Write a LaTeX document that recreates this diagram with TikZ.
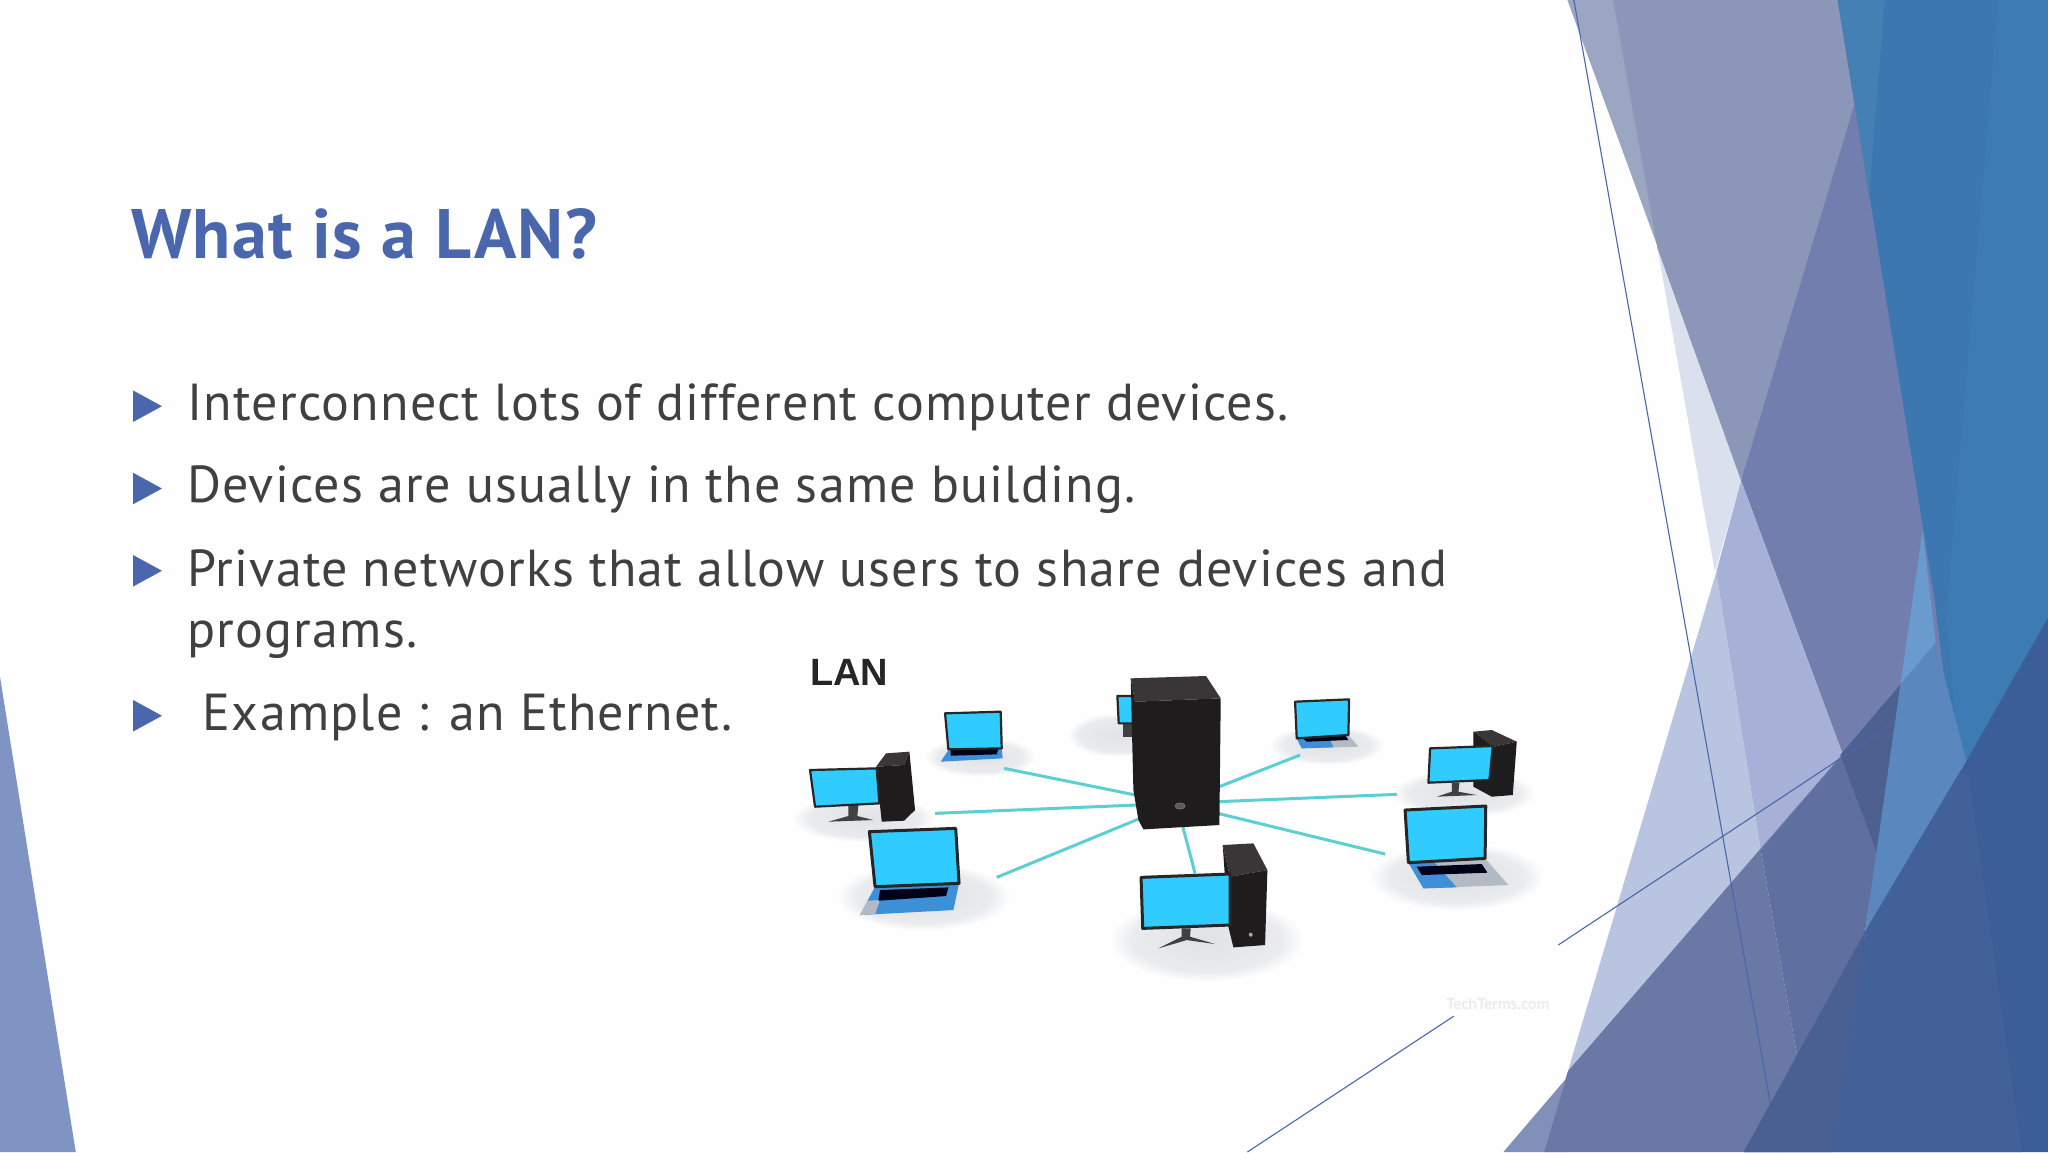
\documentclass[tikz,border=0pt]{standalone}
\usepackage{fontspec}
\setmainfont{PT Sans}
\newfontfamily\bodyfont[LetterSpace=2.4]{PT Sans}
\newfontfamily\titlefont[LetterSpace=2.2]{PT Sans}
\newfontfamily\lanfont{Liberation Sans}
\usetikzlibrary{shapes.geometric}

\definecolor{titleblue}{HTML}{4A66AC}
\definecolor{bodygray}{HTML}{404040}
\definecolor{linkcyan}{HTML}{5CCFD2}
\definecolor{screenblue}{HTML}{30CCFF}
\definecolor{towerblack}{HTML}{1F1C1D}
\definecolor{towertop}{HTML}{3A3638}
\definecolor{deckblue}{HTML}{3D8FD8}
\definecolor{deckgray}{HTML}{B4BAC4}
\definecolor{discgray}{HTML}{E0E2E5}
\definecolor{discedge}{HTML}{E9EBEE}

\pgfdeclareradialshading{discshade}{\pgfpoint{0bp}{0bp}}{
  color(0bp)=(discgray); color(19bp)=(discedge); color(25bp)=(white); color(50bp)=(white)}

\tikzset{
  bodytext/.style={anchor=base west,inner sep=0pt,text=bodygray,font=\bodyfont\fontsize{26}{30}\selectfont},
  bullet/.style={fill=titleblue},
  facet/.style={/utils/exec={\definecolor{facetcol}{HTML}{#1}},fill=facetcol,draw=none},
  thinline/.style={draw=titleblue,line width=0.55pt},
  disc/.style={ellipse,minimum width=#1,shading=discshade},
  lanlink/.style={draw=linkcyan,line width=1.5pt},
  bezel/.style={fill=screenblue,draw=black!85,line width=1.1pt,line join=round},
  towerfront/.style={fill=towerblack},
  toptower/.style={fill=towertop},
  keys/.style={fill=black!90!blue},
  stand/.style={fill=black!75}
}

\begin{document}
\begin{tikzpicture}[x=0.653061pt,y=-0.653061pt]
  \useasboundingbox (0,0) rectangle (1568,882);
  \fill[facet=FEFEFE] (0,0) rectangle (1568,882);

  % facets on the right
  \fill[facet=9BA7C2] (1200,0) -- (1420,0) -- (1501,579) -- (1437,648) -- cycle;
  \fill[facet=DAE0EE] (1269,190) -- (1333,368) -- (1313,438) -- cycle;
  \fill[facet=8C96B8] (1235,0) -- (1420,0) -- (1420,79) -- (1333,368) -- (1269,190) -- cycle;
  \fill[facet=727FAE] (1420,79) -- (1333,368) -- (1437,648) -- (1501,579) -- (1407,0) -- cycle;
  \fill[facet=B8C4E0] (1314,438) -- (1348,651) -- (1200,882) -- (1182,882) -- cycle;
  \fill[facet=A7B1D7] (1333,368) -- (1437,648) -- (1348,651) -- (1314,438) -- cycle;
  \fill[facet=8090B8] (1457,524) -- (1151,882) -- (1182,882) -- (1200.6,820) -- cycle;
  \fill[facet=6A78A5] (1457,524) -- (1200.6,820) -- (1182,882) -- (1389,882) -- (1348,651) -- cycle;
  \fill[facet=5F70A0] (1348,651) -- (1389,882) -- (1403,882) -- (1428,713) -- (1457,524) -- cycle;
  \fill[facet=4D6090] (1455,524) -- (1409,578) -- (1437,653) -- cycle;
  \draw[thinline] (1205,0) -- (1362,882);
  \fill[facet=3D77B1] (1407,0) -- (1568,0) -- (1568,620) -- (1501,620) -- (1481,458) -- cycle;
  \fill[facet=4480B4] (1407,0) -- (1443,0) -- (1431,150) -- (1420,79) -- cycle;
  \fill[facet=3D7BB4] (1530,0) -- (1568,0) -- (1568,473) -- (1501,590) -- (1490,473) -- cycle;
  \fill[facet=6A9BCF] (1472,406) -- (1482,492) -- (1455,524) -- cycle;
  \fill[facet=5A88BE] (1455,524) -- (1482,492) -- (1510,600) -- (1428,713) -- cycle;
  \fill[facet=3B5E98] (1568,473) -- (1335,882) -- (1568,882) -- cycle;
  \fill[facet=4A5F92] (1335,882) -- (1403,882) -- (1426,729) -- (1428,713) -- cycle;
  \fill[facet=436199] (1403,882) -- (1428,713) -- (1501,590) -- (1507,594) -- (1548,882) -- cycle;
  \draw[thinline] (1193,723.5) -- (1450,553.7);
  \draw[thinline] (1113,778) -- (955,882);

  % facet on the left
  \fill[facet=8094C4] (0,518) -- (58,882) -- (0,882) -- cycle;

  % slide text
  \node[anchor=base west,inner sep=0pt,text=titleblue,font=\titlefont\fontsize{35}{40}\selectfont\bfseries] (title) at (100,198) {What is a LAN?};
  \node[bodytext] (itemA) at (143,322) {Interconnect lots of different computer devices.};
  \node[bodytext] (itemB) at (143,385) {Devices are usually in the same building.};
  \node[bodytext] (itemC) at (143,449) {Private networks that allow users to share devices and};
  \node[bodytext] (itemD) at (143,496) {programs.};
  \node[bodytext] (itemE) at (155,559) {Example : an Ethernet.};
  \foreach \y in {311,374,437,548}
    \fill[bullet] (102,\y-12) -- (124,\y) -- (102,\y+12) -- cycle;

  \node[anchor=base west,inner sep=0pt,font=\lanfont\bfseries\fontsize{19}{20}\selectfont,text=black!85] (lanlabel) at (620,525) {LAN};
  \node[anchor=base west,inner sep=0pt,font=\fontsize{8}{9}\selectfont\bfseries,text=black!7] (mark) at (1107,773) {TechTerms.com};

  % network: left half
  \begin{scope}[shift={(597.2,490)},x=0.16668pt,y=-0.16668pt]
    \node[disc=72pt,minimum height=24pt] (discPcL) at (250,535) {};
    \node[disc=56pt,minimum height=20pt] (discLapA) at (600,350) {};
    \node[disc=88pt,minimum height=34pt] (discLapB) at (430,770) {};
    \coordinate (linkPcL) at (465,520);
    \coordinate (linkLapA) at (672,385);
    \coordinate (linkLapB) at (650,712);
    % top left laptop
    \fill[deckblue] (505,330) -- (665,325) -- (668,355) -- (482,365) -- cycle;
    \fill[keys] (512,330) -- (655,325) -- (650,343) -- (512,347) -- cycle;
    \draw[bezel] (495,220) -- (662,215) -- (665,325) -- (505,328) -- cycle;
    % left pc
    \fill[toptower] (288,380) -- (318,340) -- (388,335) -- (372,375) -- cycle;
    \fill[towerfront] (288,380) -- (372,375) -- (388,335) -- (405,510) -- (372,542) -- (305,545) -- cycle;
    \fill[stand] (205,495) -- (235,495) -- (232,528) -- (280,540) -- (145,545) -- (205,528) -- cycle;
    \draw[bezel] (90,390) -- (290,385) -- (298,490) -- (105,500) -- cycle;
    % big left laptop
    \fill[deckblue] (285,740) -- (537,730) -- (520,810) -- (240,825) -- cycle;
    \fill[deckgray] (262,782) -- (300,780) -- (285,822) -- (240,825) -- cycle;
    \fill[keys] (300,750) -- (505,742) -- (498,768) -- (295,782) -- cycle;
    \draw[bezel,line width=1.5pt] (268,575) -- (527,565) -- (537,730) -- (285,740) -- cycle;
  \end{scope}

  % network: right half
  \begin{scope}[shift={(826.9,490)},x=0.16668pt,y=-0.16668pt]
    \node[disc=50pt,minimum height=22pt] (discPcH) at (110,285) {};
    \node[disc=58pt,minimum height=20pt] (discLapC) at (740,315) {};
    \node[disc=72pt,minimum height=24pt] (discPcR) at (1150,460) {};
    \node[disc=88pt,minimum height=34pt] (discLapD) at (1130,710) {};
    \node[disc=98pt,minimum height=42pt] (discPcB) at (380,900) {};
    \coordinate (linkLapC) at (660,345);
    \coordinate (linkPcR) at (950,463);
    \coordinate (linkLapD) at (915,642);
    \coordinate (linkPcB) at (345,700);
    \coordinate (hub) at (290,490);
  \end{scope}

  \draw[lanlink] (hub) -- (linkLapA);
  \draw[lanlink] (hub) -- (linkPcL);
  \draw[lanlink] (hub) -- (linkLapB);
  \draw[lanlink] (hub) -- (linkLapC);
  \draw[lanlink] (hub) -- (linkPcR);
  \draw[lanlink] (hub) -- (linkLapD);
  \draw[lanlink] (hub) -- (linkPcB);

  \begin{scope}[shift={(826.9,490)},x=0.16668pt,y=-0.16668pt]
    % hidden pc
    \fill[stand] (130,250) rectangle (165,292);
    \draw[bezel] (112,168) -- (160,168) -- (160,250) -- (116,250) -- cycle;
    % server
    \fill[toptower] (152,115) -- (378,108) -- (422,175) -- (165,185) -- cycle;
    \fill[towerfront] (152,115) -- (165,185) -- (422,175) -- (418,555) -- (190,568) -- (175,540) -- (160,450) -- cycle;
    \node[draw=black!55,fill=black!65,ellipse,minimum width=5pt,minimum height=3pt,inner sep=0pt] (srvButton) at (300,498) {};
    % top right laptop
    \fill[deckgray] (650,295) -- (805,285) -- (835,320) -- (665,325) -- cycle;
    \fill[deckblue] (650,295) -- (745,290) -- (760,322) -- (665,325) -- cycle;
    \fill[keys] (665,292) -- (795,285) -- (805,300) -- (680,305) -- cycle;
    \draw[bezel] (645,185) -- (807,178) -- (805,285) -- (650,295) -- cycle;
    % right pc
    \fill[toptower] (1180,275) -- (1235,270) -- (1310,305) -- (1240,320) -- cycle;
    \fill[towerfront] (1180,275) -- (1240,320) -- (1310,305) -- (1298,465) -- (1235,470) -- (1180,440) -- cycle;
    \fill[stand] (1115,428) -- (1138,428) -- (1135,455) -- (1190,465) -- (1070,470) -- (1115,455) -- cycle;
    \draw[bezel] (1050,325) -- (1238,318) -- (1228,420) -- (1045,428) -- cycle;
    % big right laptop
    \fill[deckgray] (985,668) -- (1215,655) -- (1285,735) -- (1030,745) -- cycle;
    \fill[deckblue] (985,668) -- (1060,664) -- (1130,742) -- (1030,745) -- cycle;
    \fill[keys] (1010,680) -- (1205,672) -- (1222,698) -- (1025,705) -- cycle;
    \draw[bezel,line width=1.5pt] (975,510) -- (1217,498) -- (1215,655) -- (985,668) -- cycle;
    % bottom pc
    \fill[toptower] (428,615) -- (520,610) -- (562,690) -- (450,710) -- cycle;
    \fill[towerfront] (428,615) -- (450,710) -- (562,690) -- (555,915) -- (460,922) -- (445,860) -- cycle;
    \fill[stand] (305,865) -- (332,865) -- (330,890) -- (405,912) -- (320,900) -- (235,925) -- (305,890) -- cycle;
    \draw[bezel,line width=1.5pt] (183,712) -- (450,702) -- (450,855) -- (188,865) -- cycle;
    \node[fill=black!35,circle,minimum size=2pt,inner sep=0pt] (pcButton) at (512,884) {};
  \end{scope}
\end{tikzpicture}
\end{document}
